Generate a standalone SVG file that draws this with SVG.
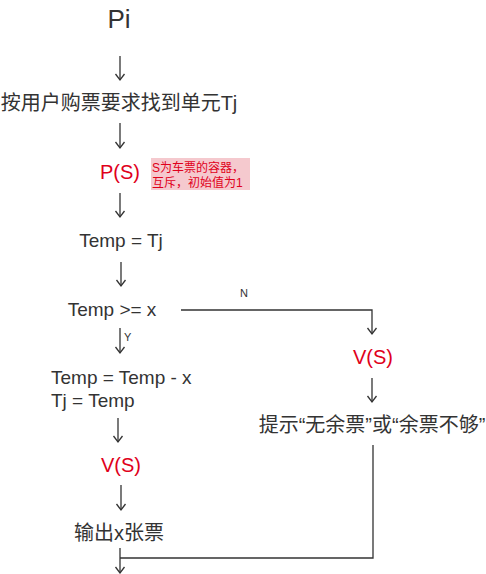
<svg xmlns="http://www.w3.org/2000/svg" width="486" height="574" viewBox="0 0 486 574">
<style>
.t{font-family:"Liberation Sans","Noto Sans CJK SC",sans-serif;fill:#333;}
.r{fill:#e0001b;}
.c{stroke:#333;stroke-width:1.3;fill:none;}
</style>
<defs>
<marker id="ah" markerWidth="12" markerHeight="10" refX="6" refY="8" orient="0" markerUnits="userSpaceOnUse">
<path d="M1.5,2 L6,8 L10.5,2" fill="none" stroke="#333" stroke-width="1.3"/>
</marker>
</defs>
<rect width="486" height="574" fill="#fff"/>
<g id="connectors">
<path class="c" d="M120,56 V80" marker-end="url(#ah)"/>
<path class="c" d="M120,123 V148" marker-end="url(#ah)"/>
<path class="c" d="M120,193 V217" marker-end="url(#ah)"/>
<path class="c" d="M121,262 V286" marker-end="url(#ah)"/>
<path class="c" d="M120,328 V353" marker-end="url(#ah)"/>
<path class="c" d="M181,310 H372 V334" marker-end="url(#ah)"/>
<path class="c" d="M372,378 V402" marker-end="url(#ah)"/>
<path class="c" d="M118,418 V442" marker-end="url(#ah)"/>
<path class="c" d="M121,485 V510" marker-end="url(#ah)"/>
<path class="c" d="M120,548 V573" marker-end="url(#ah)"/>
<path class="c" d="M373,445 V558 H120"/>
<text class="t" x="244" y="297" font-size="11" text-anchor="middle">N</text>
<text class="t" x="124" y="341" font-size="11">Y</text>
</g>
<g id="pi"><text class="t" x="119" y="28" font-size="26" text-anchor="middle">Pi</text></g>
<g id="find"><text class="t" x="119" y="110" font-size="20" text-anchor="middle">按用户购票要求找到单元Tj</text></g>
<g id="ps"><text class="t r" x="120" y="179" font-size="20" text-anchor="middle">P(S)</text></g>
<g id="note">
<rect x="151" y="158" width="99" height="32" fill="#f5c9ce"/>
<text class="t r" x="152" y="172" font-size="12">S为车票的容器，</text>
<text class="t r" x="152" y="187" font-size="12">互斥，初始值为1</text>
</g>
<g id="temp"><text class="t" x="121" y="247" font-size="19" text-anchor="middle">Temp = Tj</text></g>
<g id="cond"><text class="t" x="112" y="316" font-size="19" text-anchor="middle">Temp &gt;= x</text></g>
<g id="assign">
<text class="t" x="51" y="384" font-size="19">Temp = Temp - x</text>
<text class="t" x="51" y="407" font-size="19">Tj = Temp</text>
</g>
<g id="vs-left"><text class="t r" x="121" y="472" font-size="20" text-anchor="middle">V(S)</text></g>
<g id="output"><text class="t" x="119" y="540" font-size="20" text-anchor="middle">输出x张票</text></g>
<g id="vs-right"><text class="t r" x="373" y="364" font-size="20" text-anchor="middle">V(S)</text></g>
<g id="hint"><text class="t" x="372" y="432" font-size="20" text-anchor="middle">提示“无余票”或“余票不够”</text></g>
</svg>
